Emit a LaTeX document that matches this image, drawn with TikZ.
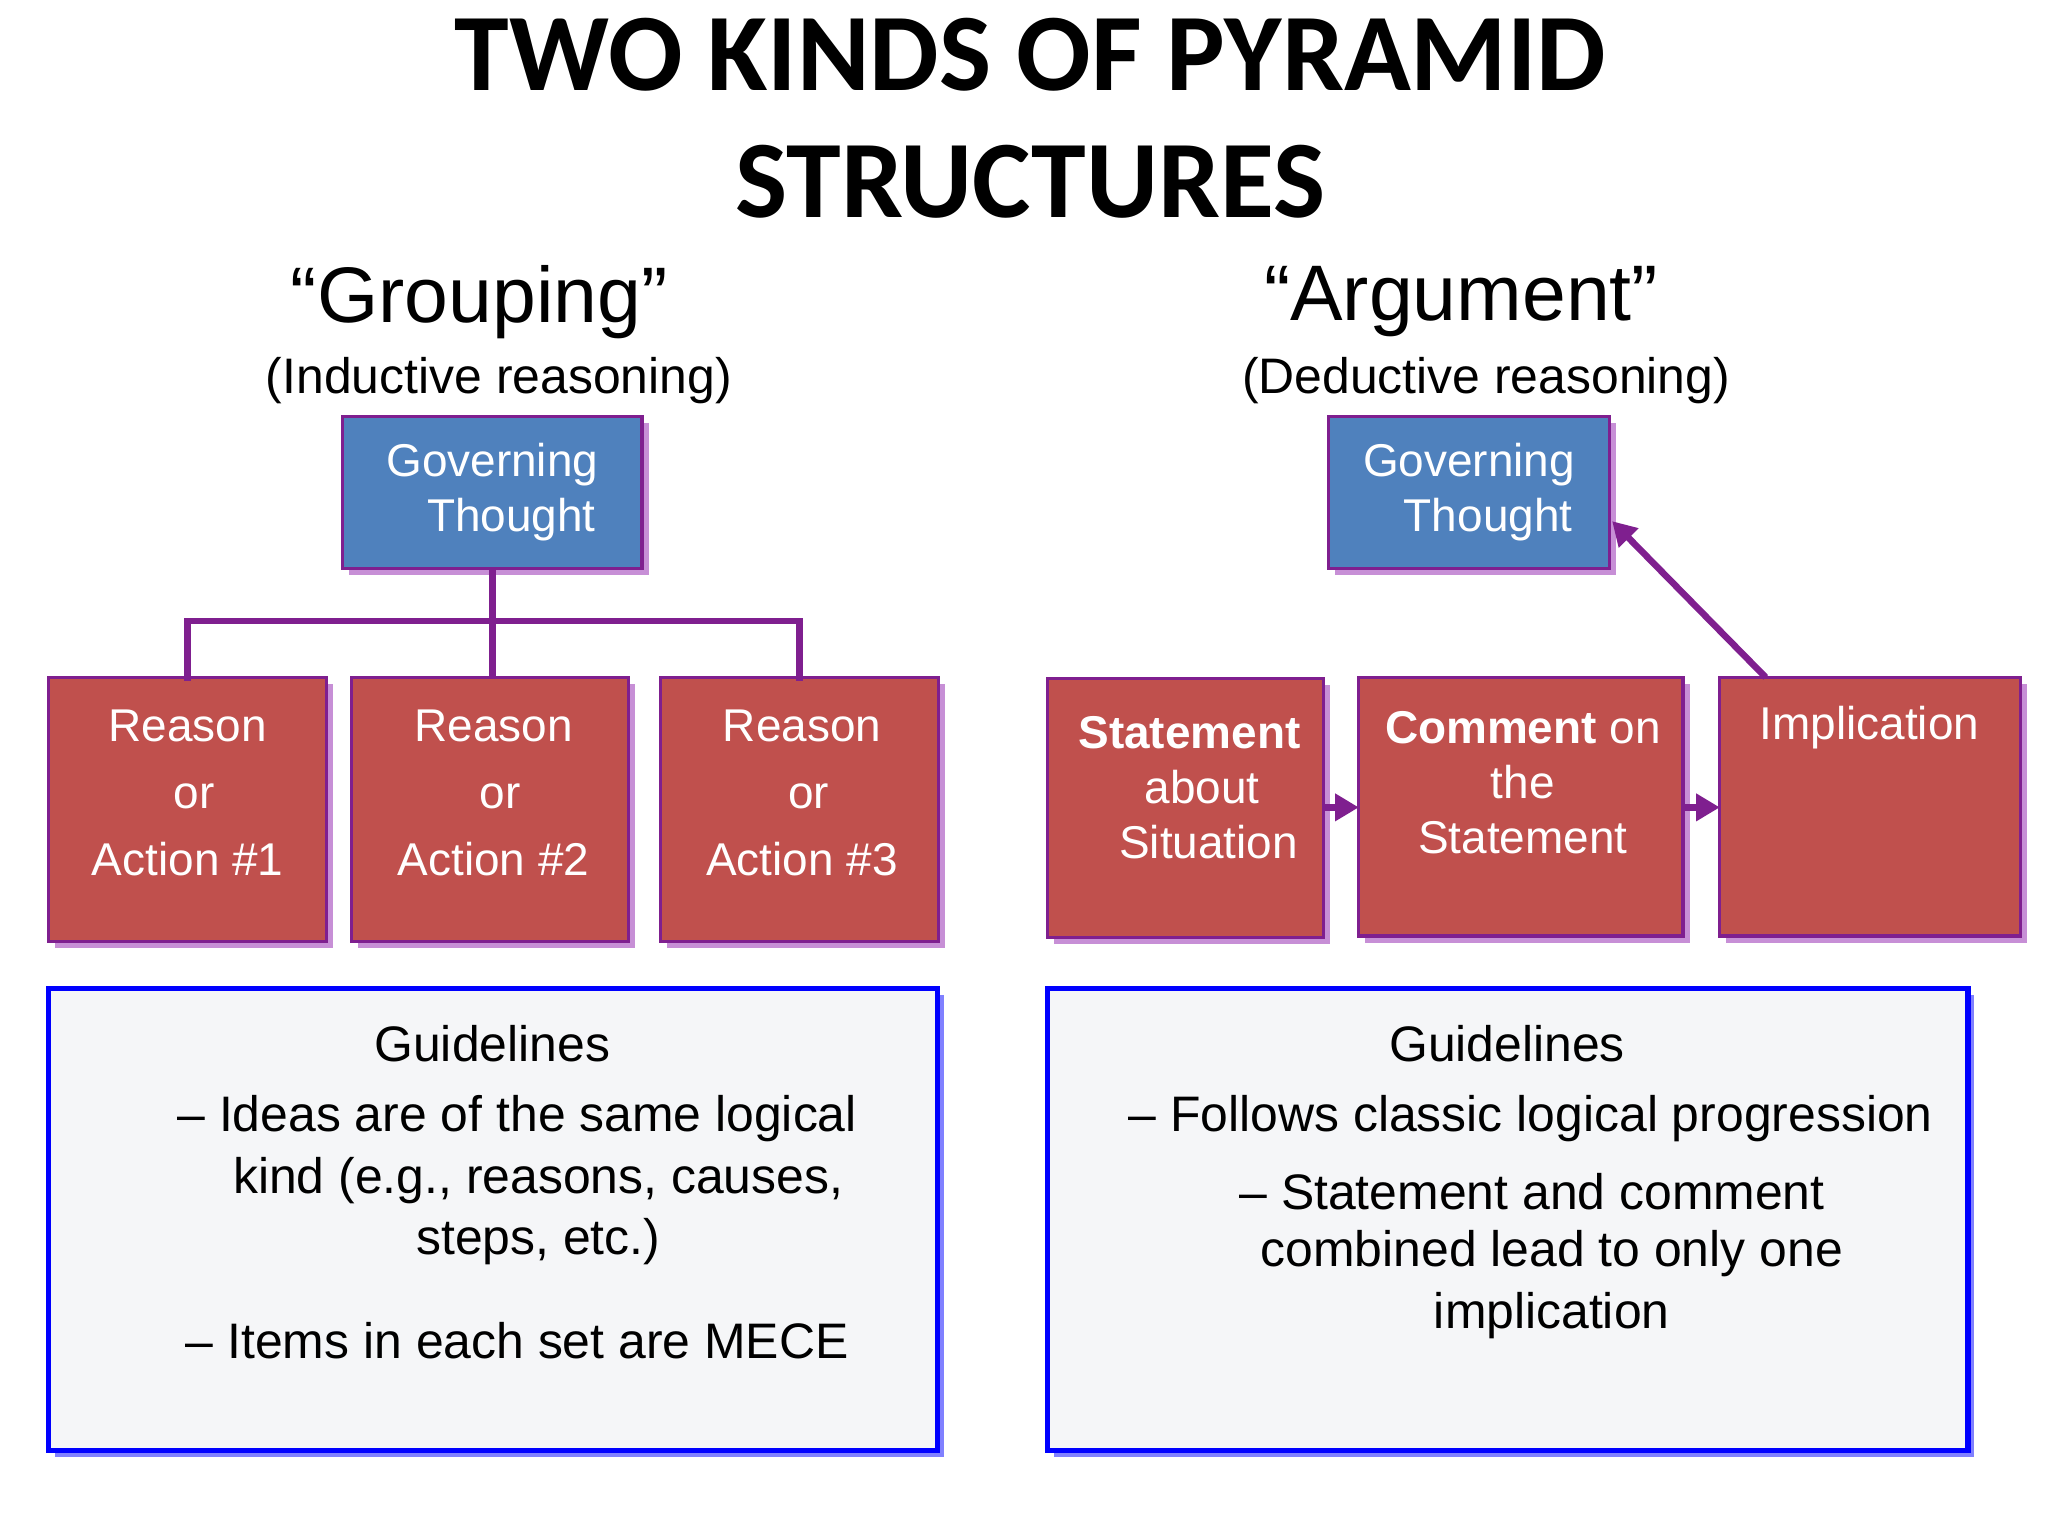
\documentclass[tikz,border=0pt]{standalone}
\usepackage{fontspec}
\setmainfont{Liberation Sans}
\newfontfamily\titlefont{Carlito}
\usetikzlibrary{arrows.meta}
\definecolor{gblue}{HTML}{4F81BD}
\definecolor{rred}{HTML}{C0504D}
\definecolor{pline}{HTML}{7F1F8F}
\definecolor{pshadow}{HTML}{C78FD6}
\definecolor{bshadow}{HTML}{8080FF}
\definecolor{gfill}{HTML}{F5F6F8}
\newcommand{\fs}[1]{\fontsize{#1}{#1}\linespread{1.2}\selectfont}
\tikzset{
 box/.style={draw=pline,line width=1.2pt,text=white,align=center,inner sep=0pt},
 shad/.style={fill=pshadow},
 conn/.style={draw=pline,line width=2.5pt},
 arr/.style={conn,-{Triangle[length=9pt,width=10pt]}},
 txt/.style={font=\fs{17.5},text=white,align=center},
}
\begin{document}
\begin{tikzpicture}[x=0.5pt,y=-0.5pt]
\useasboundingbox (0,0) rectangle (1560,1170);
\fill[white] (0,0) rectangle (1560,1170);
\node[font=\titlefont\bfseries\fs{42},align=center] (title) at (785,90) {TWO KINDS OF PYRAMID\\[-2pt]STRUCTURES};
\node[font=\fs{30}] (g) at (365,230) {“Grouping”};
\node[font=\fs{19}] (gi) at (380,290) {(Inductive reasoning)};
\node[font=\fs{30}] (a) at (1113,230) {“Argument”};
\node[font=\fs{19}] (ai) at (1132,290) {(Deductive reasoning)};
% shadows
\foreach \a/\b/\c/\d in {261/317/489/433,1012/317/1226/433,37/516/249/717,268/516/479/717,503/516/715/717,798/517/1008/714,1035/516/1282/713,1310/516/1539/713}
  \fill[pshadow] (\a+5,\b+5) rectangle (\c+5,\d+5);
% boxes
\draw[box,fill=gblue] (261,317) rectangle (489,433);
\node[txt] (gt1) at (375,375) {Governing\\\ \ \ Thought};
\draw[box,fill=gblue] (1012,317) rectangle (1226,433);
\node[txt] (gt2) at (1119,375) {Governing\\\ \ \ Thought};
\draw[box,fill=rred] (37,516) rectangle (249,717);
\draw[box,fill=rred] (268,516) rectangle (479,717);
\draw[box,fill=rred] (503,516) rectangle (715,717);
\node[txt,font=\fs{17.5}\linespread{1.45}\selectfont] (r1) at (143,604) {Reason\\\ or\\Action \#1};
\node[txt,font=\fs{17.5}\linespread{1.45}\selectfont] (r2) at (376,604) {Reason\\\ or\\Action \#2};
\node[txt,font=\fs{17.5}\linespread{1.45}\selectfont] (r3) at (611,604) {Reason\\\ or\\Action \#3};
\draw[box,fill=rred] (798,517) rectangle (1008,714);
\draw[box,fill=rred] (1035,516) rectangle (1282,713);
\draw[box,fill=rred] (1310,516) rectangle (1539,713);
\node[txt] (s1) at (906,600) {\textbf{Statement}\\\ \ about\\\ \ \ Situation};
\node[txt] (s2) at (1160,596) {\textbf{Comment} on\\the\\Statement};
\node[txt] (s3) at (1424,554) {Implication};
% connectors
\coordinate (t0) at (375,433);
\coordinate (tj) at (375,473);
\draw[conn] (t0) -- (tj);
\draw[conn,line cap=rect] (143,516) -- (143,473) -- (609,473) -- (609,516);
\draw[conn] (tj) -- (375,516);
\coordinate (p1) at (1008,615); \coordinate (q1) at (1035,615);
\coordinate (p2) at (1282,615); \coordinate (q2) at (1310,615);
\draw[arr] (p1) -- (q1);
\draw[arr] (p2) -- (q2);
\coordinate (ib) at (1345,516); \coordinate (gc) at (1228,397);
\draw[arr] (ib) -- (gc);
% guideline boxes
\fill[bshadow] (42,758) rectangle (719,1110);
\draw[draw=blue,line width=2pt,fill=gfill] (37,753) rectangle (714,1105);
\fill[bshadow] (803,758) rectangle (1504,1110);
\draw[draw=blue,line width=2pt,fill=gfill] (798,753) rectangle (1499,1105);
\begin{scope}[every node/.style={font=\fs{19}}]
\node (gl1) at (375,795) {Guidelines};
\node (l1) at (394,852) {– Ideas are of the same logical};
\node (l2) at (410,899) {kind (e.g., reasons, causes,};
\node (l3) at (410,946) {steps, etc.)};
\node (l4) at (394,1021) {– Items in each set are MECE};
\node (gl2) at (1148,795) {Guidelines};
\node (m1) at (1166,852) {– Follows classic logical progression};
\node (m2) at (1167,908) {– Statement and comment};
\node (m3) at (1182,955) {combined lead to only one};
\node (m4) at (1182,1002) {implication};
\end{scope}
\end{tikzpicture}
\end{document}
